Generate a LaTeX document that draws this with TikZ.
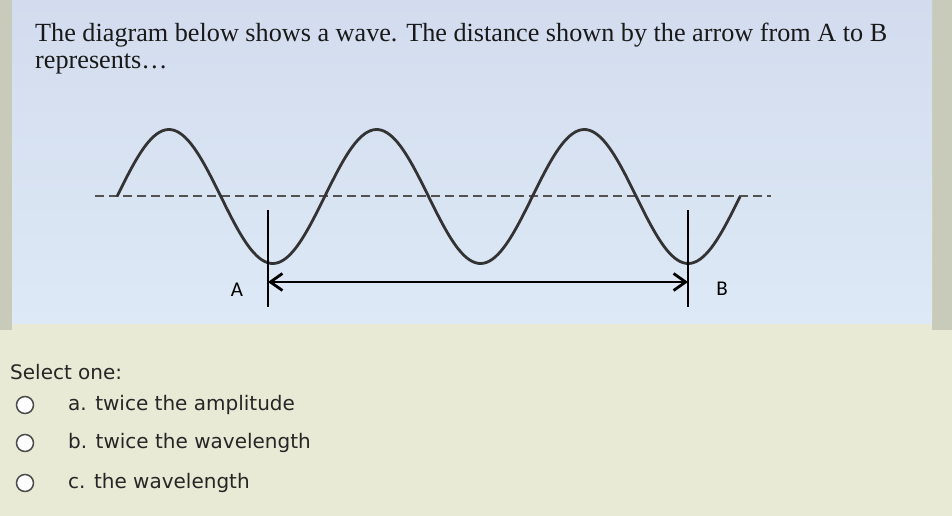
\documentclass[tikz,border=0pt]{standalone}
\usepackage{fontspec}
\setmainfont{Liberation Serif}
\newfontfamily\labelfont{Carlito}
\newfontfamily\optfont{DejaVu Sans}
\usetikzlibrary{arrows.meta}
\definecolor{paneltop}{HTML}{D3DCEE}
\definecolor{panelbot}{HTML}{DDE9F6}
\definecolor{pagebg}{HTML}{E8EAD5}
\definecolor{edgebg}{HTML}{C9CBBA}
\definecolor{waveink}{HTML}{333333}

\begin{document}
\begin{tikzpicture}[x=1pt,y=-1pt,>={Straight Barb[length=12pt,width=17pt]},
    wave/.style={draw=waveink,line width=2.8pt},
    axisline/.style={draw=waveink!85,line width=2.5pt,dash pattern=on 9pt off 5pt},
    marker/.style={draw=black,line width=2.8pt},
    radio/.style={circle,draw=black!70,fill=white,line width=1.5pt,minimum size=17pt,inner sep=0pt},
    option/.style={anchor=west,inner sep=0pt,font=\optfont\fontsize{20}{22}\selectfont,text=black!85}]

% backgrounds
  \useasboundingbox (0,0) rectangle (952,516);
  \fill[pagebg] (0,0) rectangle (952,516);
  \fill[edgebg] (0,0) rectangle (12,330);
  \fill[edgebg] (932,0) rectangle (952,330);
  \shade[top color=paneltop,bottom color=panelbot] (12,0) rectangle (932,323);

% question text
  \node[anchor=base west,inner sep=0pt,align=left,font=\fontsize{26.2}{27}\selectfont,text=black!90]
    (question) at (35,69) {The diagram below shows a wave. The distance shown by the arrow from A to B\\represents\ldots};

% the wave and its axis
  \coordinate (axisL) at (95,196);
  \coordinate (axisR) at (771,196);
  \draw[axisline] (axisL) -- (axisR);
  \draw[wave] plot[domain=117:740,samples=220,smooth] (\x,{196.5-67*sin((\x-117)/207.7*360)});

% the markers at A and B
  \coordinate (Atop) at (268,210);
  \coordinate (Abot) at (268,307);
  \coordinate (Btop) at (688,210);
  \coordinate (Bbot) at (688,307);
  \coordinate (A) at (268,282);
  \coordinate (B) at (688,282);
  \draw[marker] (Atop) -- (Abot);
  \draw[marker] (Btop) -- (Bbot);
  \draw[marker,<->] (A) -- (B);
  \node[font=\labelfont\fontsize{21}{22}\selectfont] (labA) at (237,290) {A};
  \node[font=\labelfont\fontsize{21}{22}\selectfont] (labB) at (722,289) {B};

% the choices
  \node[option] (select) at (10,372) {Select one:};
  \node[radio] (ra) at (25,405) {};
  \node[radio] (rb) at (25,443) {};
  \node[radio] (rc) at (25,483) {};
  \node[option] (opta) at (68,405) {a. twice the amplitude};
  \node[option] (optb) at (68,443) {b. twice the wavelength};
  \node[option] (optc) at (68,483) {c. the wavelength};

\end{tikzpicture}
\end{document}
